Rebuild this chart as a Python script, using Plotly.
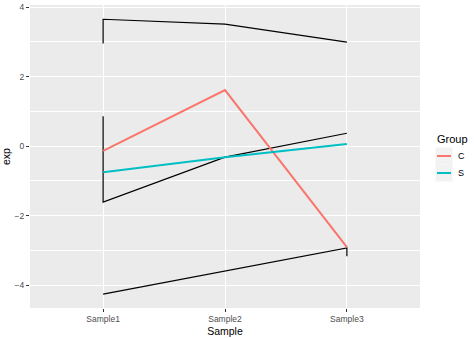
import plotly.graph_objects as go

samples = ["Sample1", "Sample2", "Sample3"]

# black individual paths (x categories, y values)
path_a_x = ["Sample1", "Sample1", "Sample2", "Sample3"]
path_a_y = [2.95, 3.65, 3.51, 2.99]
path_b_x = ["Sample1", "Sample1", "Sample2", "Sample3"]
path_b_y = [0.86, -1.61, -0.32, 0.37]
path_c_x = ["Sample1", "Sample2", "Sample3", "Sample3"]
path_c_y = [-4.26, -3.6, -2.93, -3.17]

groups = ["C", "S"]
group_colors = ["#F8766D", "#00BFC4"]
group_c = [-0.14, 1.61, -2.91]
group_s = [-0.75, -0.32, 0.06]

W, H = 474, 338
L, R, T, B = 30, 54, 5, 30
pw, ph = W - L - R, H - T - B

fig = go.Figure()
for px_, py_ in [(path_a_x, path_a_y), (path_b_x, path_b_y), (path_c_x, path_c_y)]:
    fig.add_trace(go.Scatter(x=px_, y=py_, mode="lines",
                             line=dict(color="black", width=1.2),
                             showlegend=False, hoverinfo="skip"))

for name, vals, col in zip(groups, [group_c, group_s], group_colors):
    fig.add_trace(go.Scatter(x=samples, y=vals, mode="lines", name=name,
                             line=dict(color=col, width=2), showlegend=False))

# manual ggplot-like legend (paper coords from pixel positions)
def pxx(v):
    return (v - L) / pw

def pxy(v):
    return (H - B - v) / ph

shapes = []
annotations = [dict(text="Group", x=pxx(435), y=pxy(139), xref="paper", yref="paper",
                    xanchor="left", yanchor="middle", showarrow=False,
                    font=dict(size=11, color="black"))]
for i, (name, col) in enumerate(zip(groups, group_colors)):
    top = 147.5 + i * 17
    shapes.append(dict(type="rect", xref="paper", yref="paper",
                       x0=pxx(435.5), x1=pxx(452.5), y0=pxy(top), y1=pxy(top + 17),
                       fillcolor="#F2F2F2", line=dict(width=0), layer="above"))
    shapes.append(dict(type="line", xref="paper", yref="paper",
                       x0=pxx(437), x1=pxx(451), y0=pxy(top + 8.5), y1=pxy(top + 8.5),
                       line=dict(color=col, width=2), layer="above"))
    annotations.append(dict(text=name, x=pxx(456), y=pxy(top + 8.5), xref="paper", yref="paper",
                            xanchor="left", yanchor="middle", showarrow=False,
                            font=dict(size=9, color="black")))

fig.update_layout(
    width=W, height=H,
    margin=dict(l=L, r=R, t=T, b=B, autoexpand=False),
    paper_bgcolor="white", plot_bgcolor="#EBEBEB",
    font=dict(family="Liberation Sans, Arial, sans-serif", color="#4D4D4D", size=8),
    showlegend=False,
    shapes=shapes, annotations=annotations,
    xaxis=dict(type="category", categoryorder="array", categoryarray=samples,
               range=[-0.6, 2.6], showgrid=True, gridcolor="white", gridwidth=1.1,
               ticks="outside", ticklen=3, tickcolor="#333333",
               tickfont=dict(size=8.5, color="#4D4D4D"), zeroline=False,
               title=dict(text="Sample", font=dict(size=10.5, color="black"), standoff=4)),
    yaxis=dict(range=[-4.66, 4.06], tickvals=[-4, -2, 0, 2, 4],
               showgrid=True, gridcolor="white", gridwidth=1.1,
               minor=dict(tickvals=[-3, -1, 1, 3], showgrid=True, gridcolor="white", gridwidth=0.5),
               ticks="outside", ticklen=3, tickcolor="#333333",
               tickfont=dict(size=8.5, color="#4D4D4D"), zeroline=False,
               title=dict(text="exp", font=dict(size=10.5, color="black"), standoff=3)),
)

fig.write_html("out.html")
